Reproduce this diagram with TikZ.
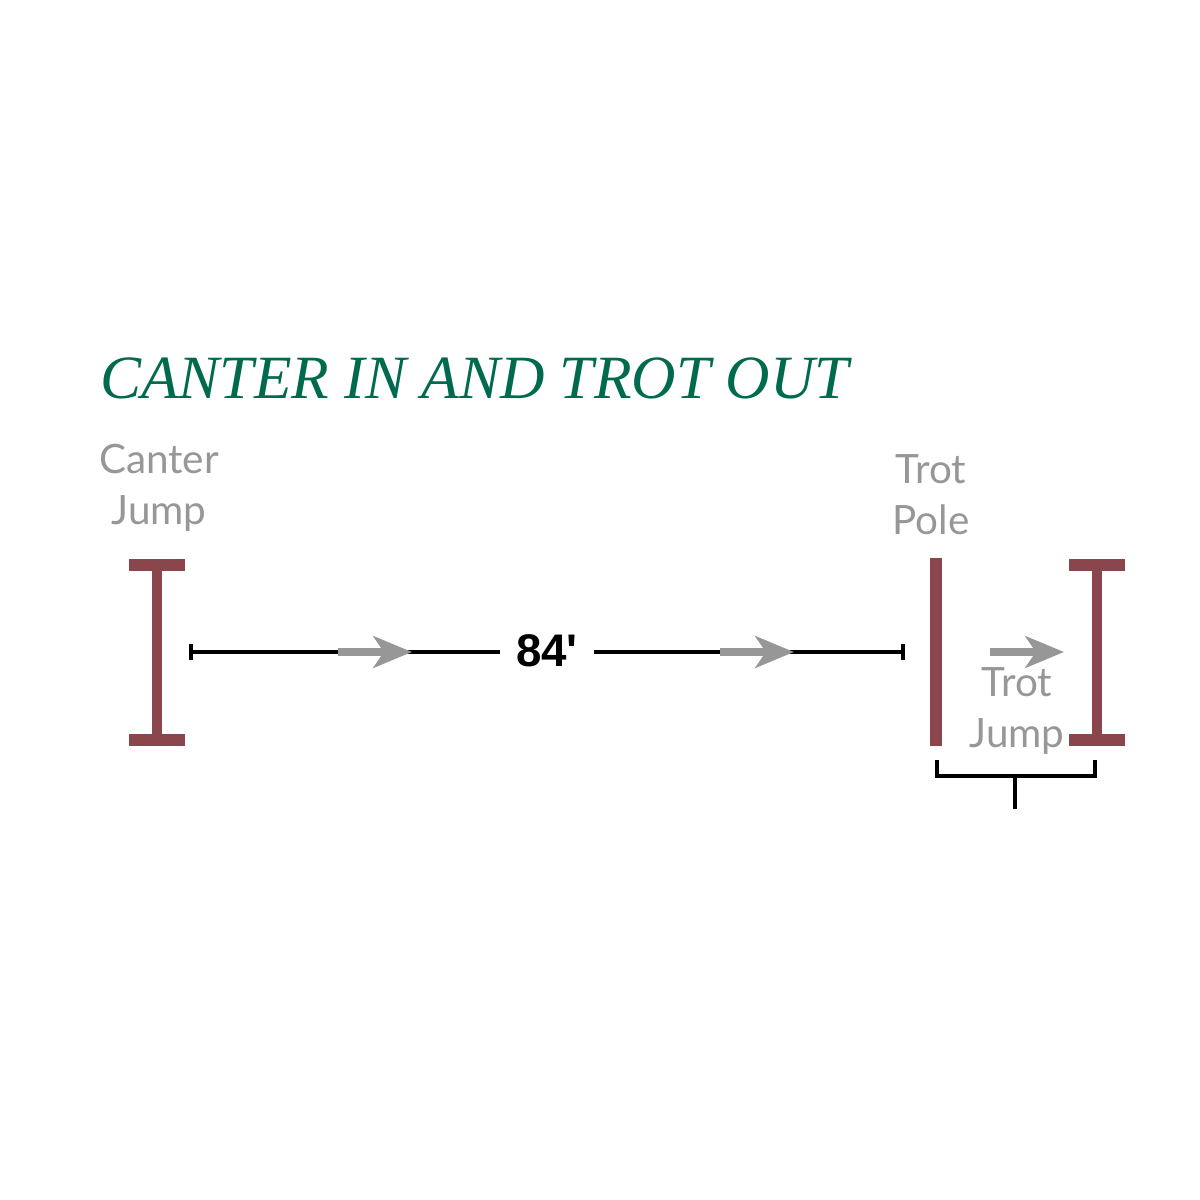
\documentclass[tikz,border=0pt]{standalone}
\usepackage{fontspec}
\setmainfont{Liberation Serif}
\newfontfamily\labfont{Lato}
\newfontfamily\numfont{Liberation Sans}
\usetikzlibrary{arrows.meta}
\definecolor{jump}{HTML}{8B454D}
\definecolor{ttl}{HTML}{006A4E}
\definecolor{gr}{HTML}{979797}
\tikzset{
 bar/.style={fill=jump,draw=none},
 lab/.style={text=gr,font=\labfont\fontsize{23}{29}\selectfont,align=center,inner sep=0},
 dim/.style={line width=2.4pt,black},
 garrow/.style={line width=4pt,gr,-{Stealth[length=22pt,width=18pt,inset=6pt]}},
}
\begin{document}
\begin{tikzpicture}[x=0.02cm,y=-0.02cm]
\useasboundingbox (0,0) rectangle (1200,1200);
\node[anchor=base west,text=ttl,font=\itshape\fontsize{35}{40}\selectfont,inner sep=0] (title) at (100,398) {CANTER IN AND TROT OUT};
% canter jump
\fill[bar] (152,562) rectangle (162,745);
\fill[bar] (129,559) rectangle (185,571);
\fill[bar] (129,734) rectangle (185,746);
% trot pole
\fill[bar] (930,558) rectangle (942,746);
% trot jump
\fill[bar] (1092,562) rectangle (1102,745);
\fill[bar] (1069,559) rectangle (1125,571);
\fill[bar] (1069,734) rectangle (1125,746);
% labels
\node[lab] (cj) at (159,488) {Canter\\Jump};
\node[lab] (tp) at (931,495) {Trot\\Pole};
\node[lab] (tj) at (1017,711) {Trot\\Jump};
\node[font=\numfont\bfseries\fontsize{26}{30}\selectfont,inner sep=0] (d) at (547,651) {84'};
% dimension line
\coordinate (l) at (191,652); \coordinate (r) at (903,652);
\draw[dim] (l) -- (500,652);
\draw[dim] (594,652) -- (r);
\draw[dim] (191,644) -- (191,660);
\draw[dim] (903,644) -- (903,660);
\draw[garrow] (338,652) -- (412,652);
\draw[garrow] (720,652) -- (794,652);
\draw[garrow] (990,652) -- (1064,652);
% bracket
\draw[dim] (937,760) -- (937,776) -- (1095,776) -- (1095,760);
\draw[dim] (1015,776) -- (1015,809);
\end{tikzpicture}
\end{document}
